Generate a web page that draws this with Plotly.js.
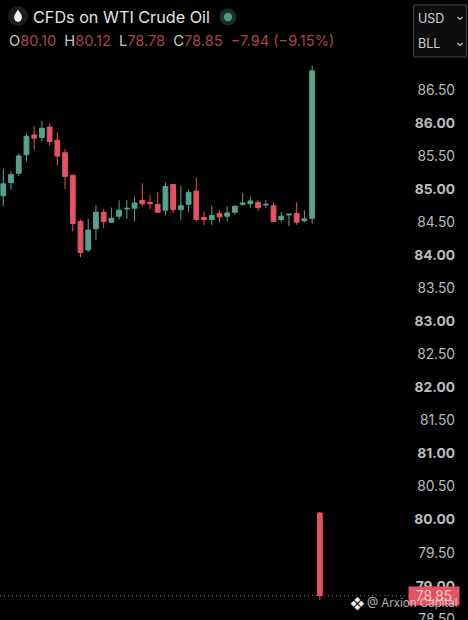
<!DOCTYPE html>
<html>
<head>
<meta charset="utf-8">
<script src="https://cdn.plot.ly/plotly-3.0.1.min.js"></script>
<style>html,body{margin:0;padding:0;background:#000;overflow:hidden}#c{width:468px;height:620px}</style>
</head>
<body>
<div id="c"></div>
<script>
const open_ = [84.90,85.10,85.24,85.52,85.82,85.78,85.94,85.74,85.55,85.21,84.51,84.08,84.40,84.65,84.50,84.59,84.70,84.71,84.83,84.80,84.77,84.68,85.07,84.69,84.77,84.97,84.57,84.54,84.63,84.59,84.65,84.77,84.78,84.80,84.76,84.75,84.54,84.61,84.63,84.52,84.56,80.10];
const high_ = [85.31,85.27,85.54,85.84,85.95,86.03,85.99,85.86,85.61,85.22,84.54,84.55,84.76,84.70,84.72,84.83,84.83,84.88,85.09,84.91,84.96,85.10,85.08,85.05,84.99,85.17,84.66,84.75,84.68,84.74,84.76,84.94,84.89,84.83,84.84,84.79,84.66,84.63,84.80,84.68,86.87,80.12];
const low_ = [84.74,84.99,85.20,85.42,85.60,85.72,85.66,85.36,85.00,84.36,83.97,84.05,84.23,84.41,84.49,84.54,84.55,84.51,84.74,84.70,84.64,84.60,84.64,84.53,84.65,84.51,84.46,84.46,84.50,84.51,84.61,84.75,84.71,84.67,84.71,84.50,84.50,84.44,84.46,84.50,84.48,78.78];
const close_ = [85.08,85.22,85.50,85.80,85.77,85.92,85.72,85.50,85.19,84.48,84.04,84.38,84.65,84.51,84.56,84.68,84.71,84.79,84.78,84.78,84.65,85.04,84.69,84.75,84.95,84.54,84.54,84.60,84.58,84.64,84.74,84.79,84.82,84.72,84.77,84.51,84.59,84.62,84.50,84.55,86.79,78.85];
const index_ = open_.map((_, i) => i);
const tickValues = [78.5,79,79.5,80,80.5,81,81.5,82,82.5,83,83.5,84,84.5,85,85.5,86,86.5];
const tickLabels = tickValues.map(v => {
  const s = v.toFixed(2);
  return Number.isInteger(v) ? '<b>' + s + '</b>' : s;
});
const lastPrice = 78.85;
const GREEN = '#55a38f', RED = '#e4535f';
const px = x => x / 468, py = y => 1 - y / 620;
const dim = c => '<span style="color:#a8444b">' + c + '</span>';

function paperRect(x0, y0, x1, y1, fill, border, layer) {
  return {type:'rect', xref:'paper', yref:'paper', x0:px(x0), x1:px(x1), y0:py(y0), y1:py(y1),
    fillcolor:fill, line:{color:border || fill, width:border ? 1 : 0}, layer:layer || 'above'};
}
function paperCircle(cx, cy, r, fill) {
  return {type:'circle', xref:'paper', yref:'paper', x0:px(cx-r), x1:px(cx+r), y0:py(cy-r), y1:py(cy+r),
    fillcolor:fill, line:{width:0}, layer:'above'};
}
function paperPath(pts, close, fill, stroke, w) {
  const d = pts.map((p, i) => (i ? 'L' : 'M') + px(p[0]) + ',' + py(p[1])).join(' ') + (close ? ' Z' : '');
  return {type:'path', xref:'paper', yref:'paper', path:d, fillcolor:fill || 'rgba(0,0,0,0)',
    line:{color:stroke || 'rgba(0,0,0,0)', width:w || 0}, layer:'above'};
}
function label(text, x, y, size, color, extra) {
  return Object.assign({xref:'paper', yref:'paper', x:px(x), y:py(y), text:text, showarrow:false,
    xanchor:'left', yanchor:'middle', align:'left', borderpad:0,
    font:{family:'Inter, Roboto, sans-serif', size:size, color:color}}, extra || {});
}

const trace = {
  type:'candlestick', x:index_, open:open_, high:high_, low:low_, close:close_,
  increasing:{line:{color:GREEN, width:1}, fillcolor:GREEN},
  decreasing:{line:{color:RED, width:1}, fillcolor:RED},
  whiskerwidth:0, hoverinfo:'skip'
};

const layout = {
  width:468, height:620, margin:{l:0, r:0, t:0, b:0},
  paper_bgcolor:'#000', plot_bgcolor:'#000', showlegend:false, boxgap:0.12,
  xaxis:{range:[-0.427, 60.19], visible:false, rangeslider:{visible:false}, fixedrange:true},
  yaxis:{side:'right', range:[78.482, 87.861], tickmode:'array', tickvals:tickValues, ticktext:tickLabels,
    ticklabelposition:'inside', ticklabeloverflow:'allow', ticklabelstandoff:10, ticklen:0, showgrid:false, zeroline:false, showline:false,
    tickfont:{family:'Inter, Roboto, sans-serif', size:13.8, color:'#bdbdbd'}, fixedrange:true},
  shapes:[
    {type:'line', xref:'paper', yref:'y', x0:0, x1:px(410), y0:lastPrice, y1:lastPrice,
      line:{color:'#9a6a6e', width:1, dash:'1px,3px'}, layer:'above'},
    paperCircle(18, 16, 10, '#1d1d1f'),
    paperPath([[18,9.5],[21.5,15],[22,18],[20.5,21],[18,22],[15.5,21],[14,18],[14.5,15]], true, '#f2f2f2'),
    paperCircle(228, 17, 8.5, '#12312b'),
    paperCircle(228, 17, 4.2, '#4f9683'),
    paperRect(413.5, 5, 466.5, 57, '#0d0d0f', '#45454a'),
    paperPath([[457.5,17],[460,19.5],[462.5,17]], false, null, '#c8c8c8', 1.2),
    paperPath([[457.5,43],[460,45.5],[462.5,43]], false, null, '#c8c8c8', 1.2)
  ],
  annotations:[
    label('CFDs on WTI Crude Oil', 32, 17, 16.2, '#e2e2e2'),
    label('O' + dim('80.10') + '  H' + dim('80.12') + '  L' + dim('78.78') + '  C' + dim('78.85') + '  ' + dim('\u22127.94 (\u22129.15%)'), 8, 41, 14.6, '#c8c8c8'),
    label('USD', 417, 18, 12.5, '#d2d2d2'),
    label('BLL', 417, 44, 12.5, '#d2d2d2'),
    {xref:'paper', yref:'y', x:px(434), y:lastPrice, text:'78.85', showarrow:false, xanchor:'center', yanchor:'middle',
      width:50, height:18, bgcolor:RED, borderpad:0, font:{family:'Inter, Roboto, sans-serif', size:13.8, color:'#f3c9cc'}},
    label('\u2756', 349, 603, 14, '#f0f0f0'),
    label('@ Arxion Capital', 366, 603, 11.5, 'rgba(225,225,225,0.8)')
  ]
};
Plotly.newPlot('c', [trace], layout, {displayModeBar:false, staticPlot:true});
</script>
</body>
</html>
